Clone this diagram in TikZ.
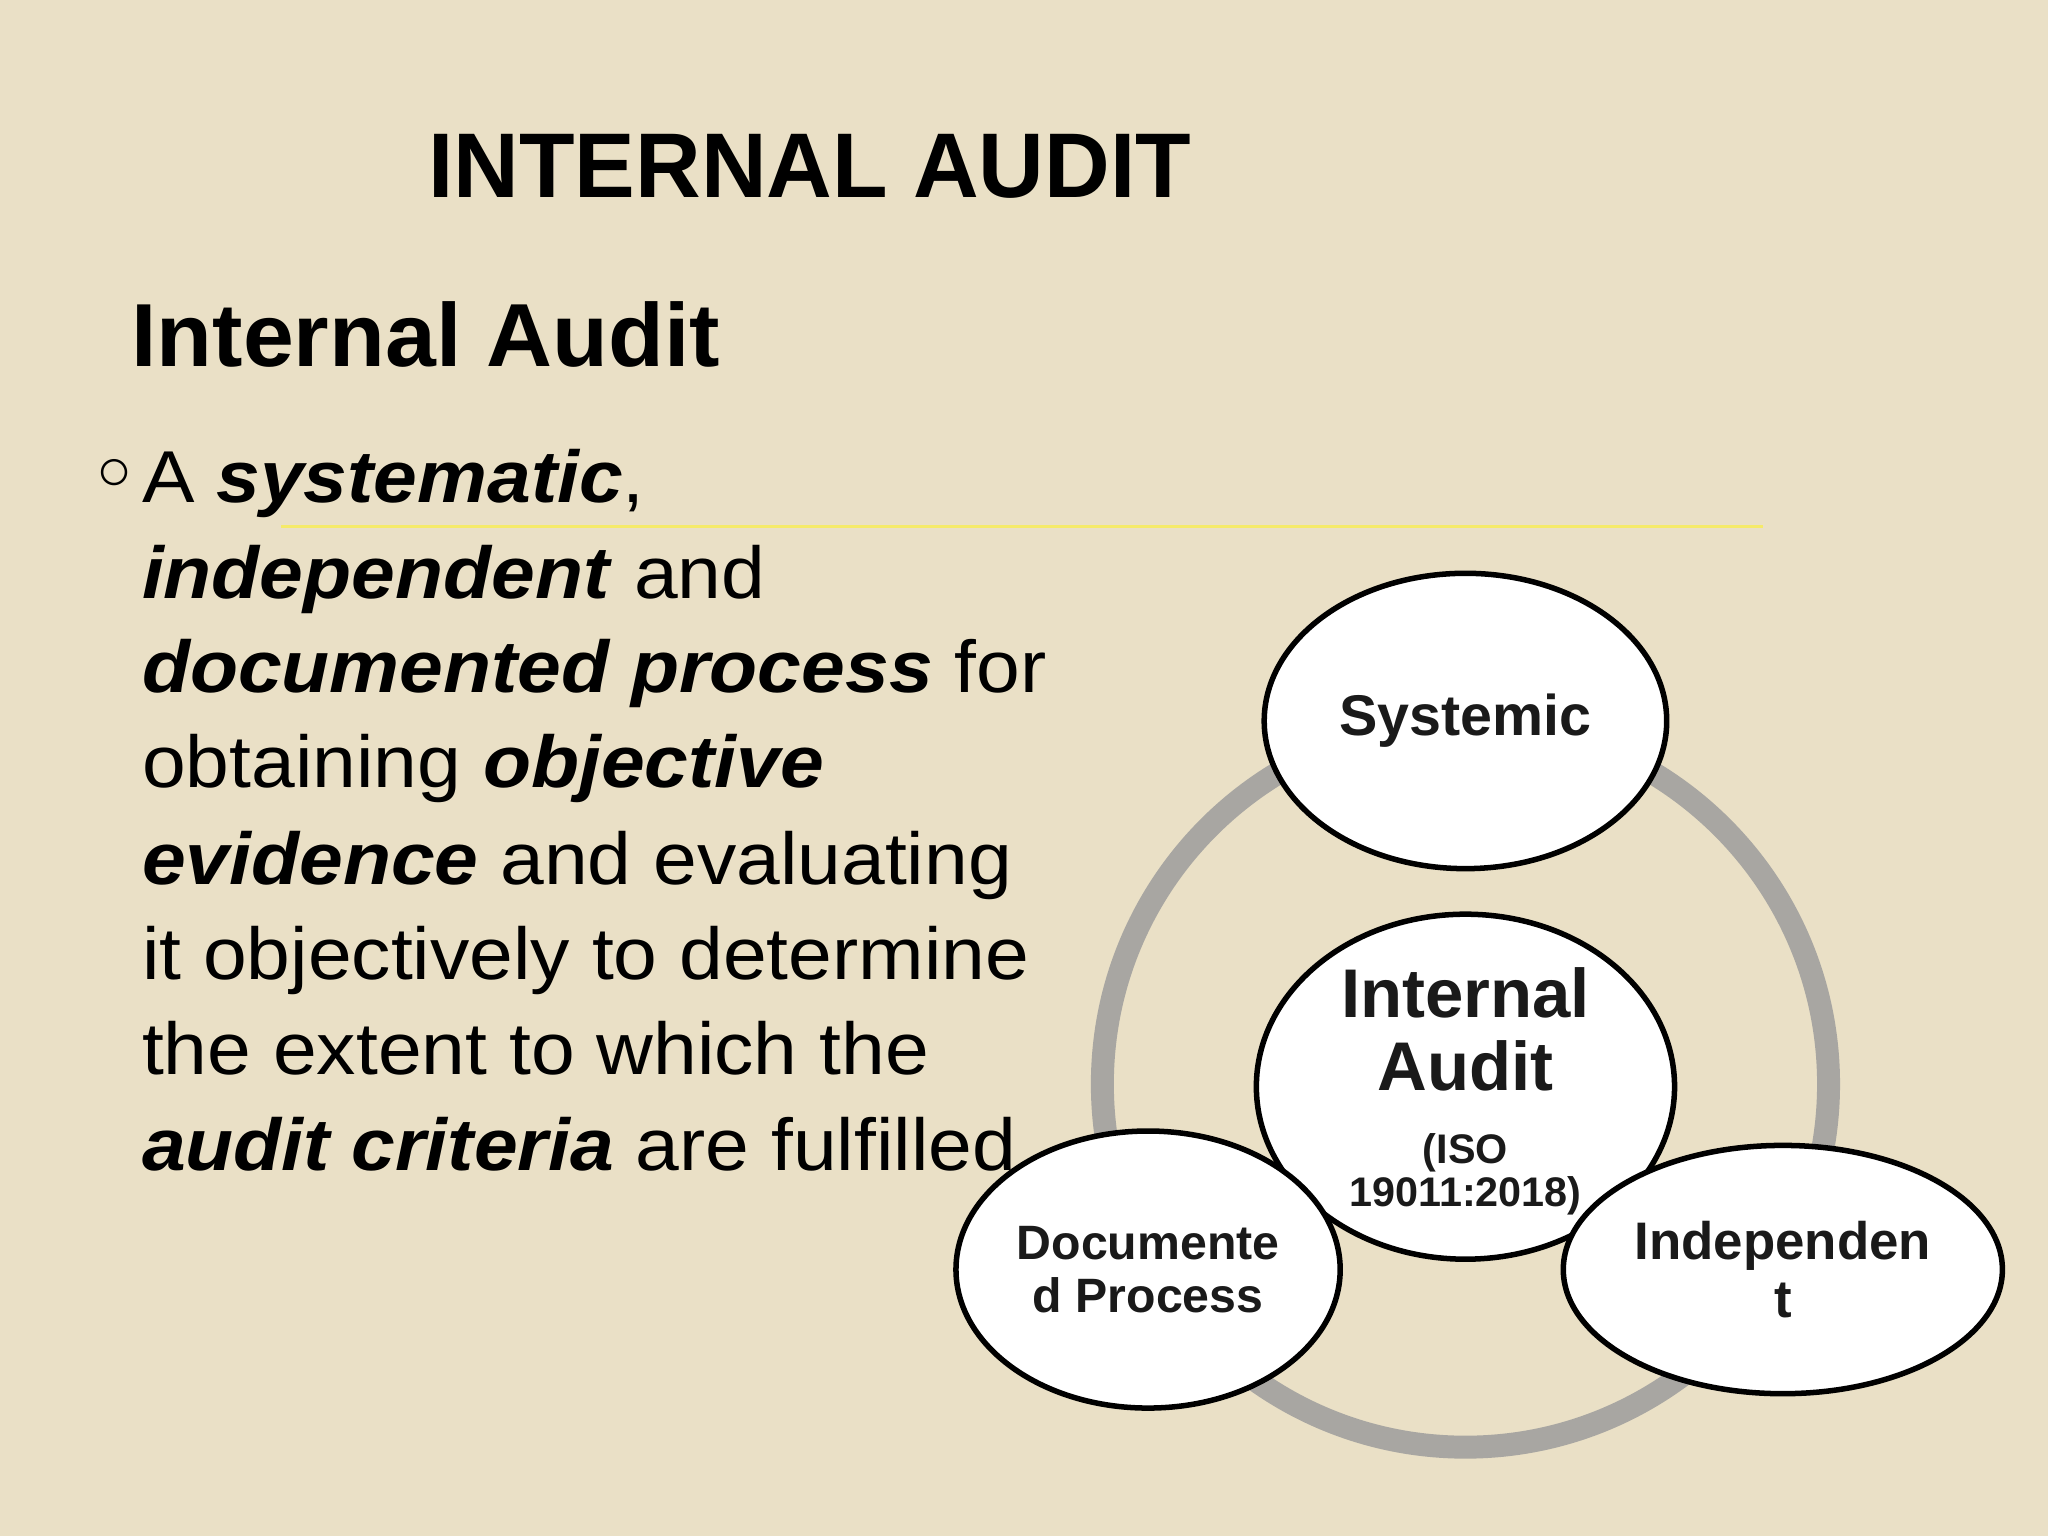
\documentclass[tikz,border=0pt]{standalone}
\usepackage{fontspec}
\setmainfont{Liberation Sans}
\usetikzlibrary{shapes.geometric}
\definecolor{bg}{HTML}{EAE0C6}
\definecolor{ring}{HTML}{A8A6A2}
\definecolor{txt}{HTML}{1A1A1A}
\tikzset{x=0.01cm,y=-0.01cm,
 bub/.style={ellipse,draw=black,line width=1.2pt,fill=white,align=center,font=\bfseries,text=txt,inner sep=0pt},
 lab/.style={font=\bfseries,text=txt,inner sep=0pt,anchor=base},
 body/.style={anchor=base west,font=\fontsize{16}{20}\selectfont,text=black,inner sep=0pt,xscale=1.07}}
\begin{document}
\begin{tikzpicture}
\fill[bg] (0,0) rectangle (1568,1176);
\useasboundingbox (0,0) rectangle (1568,1176);
\node[font=\fontsize{20}{24}\bfseries\selectfont,xscale=0.99] (title) at (620,127) {INTERNAL AUDIT};
\node[anchor=west,inner sep=0pt,font=\fontsize{19.5}{24}\bfseries\selectfont,xscale=1.02] (sub) at (100,256) {Internal Audit};
\node[font=\fontsize{13}{14}\selectfont] (bul) at (88,364) {○};
\draw[color=yellow!50!bg,line width=0.8pt] (215,403) coordinate (l1) -- (1350,403) coordinate (l2);
\node[body] (t1) at (108,385) {A \textbf{\textit{systematic}},};
\node[body] (t2) at (108,458) {\textbf{\textit{independent}} and};
\node[body] (t3) at (108,530) {\textbf{\textit{documented process}} for};
\node[body] (t4) at (108,603) {obtaining \textbf{\textit{objective}}};
\node[body] (t5) at (108,677) {\textbf{\textit{evidence}} and evaluating};
\node[body] (t6) at (108,750) {it objectively to determine};
\node[body] (t7) at (108,823) {the extent to which the};
\node[body] (t8) at (108,896) {\textbf{\textit{audit criteria}} are fulfilled};
\draw[ring,line width=5pt] (1122,830) circle [radius=278];
\node[bub,minimum width=3.08cm,minimum height=2.26cm,font=\fontsize{12.5}{14}\bfseries\selectfont] (sys) at (1122,552) {Systemic};
\node[bub,minimum width=3.2cm,minimum height=2.64cm] (ia) at (1122,832) {};
\node[lab,font=\fontsize{15}{16}\bfseries\selectfont] (ia1) at (1122,779) {Internal};
\node[lab,font=\fontsize{15}{16}\bfseries\selectfont] (ia2) at (1122,835) {Audit};
\node[lab,font=\fontsize{9}{10}\bfseries\selectfont] (ia3) at (1122,891) {(ISO};
\node[lab,font=\fontsize{9}{10}\bfseries\selectfont] (ia4) at (1122,924) {19011:2018)};
\node[bub,minimum width=2.94cm,minimum height=2.12cm,font=\fontsize{10.5}{11.5}\bfseries\selectfont] (doc) at (879,972) {Documente\\d Process};
\node[bub,minimum width=3.36cm,minimum height=1.9cm,font=\fontsize{11.5}{12.5}\bfseries\selectfont] (ind) at (1365,972) {Independen\\t};
\end{tikzpicture}
\end{document}
